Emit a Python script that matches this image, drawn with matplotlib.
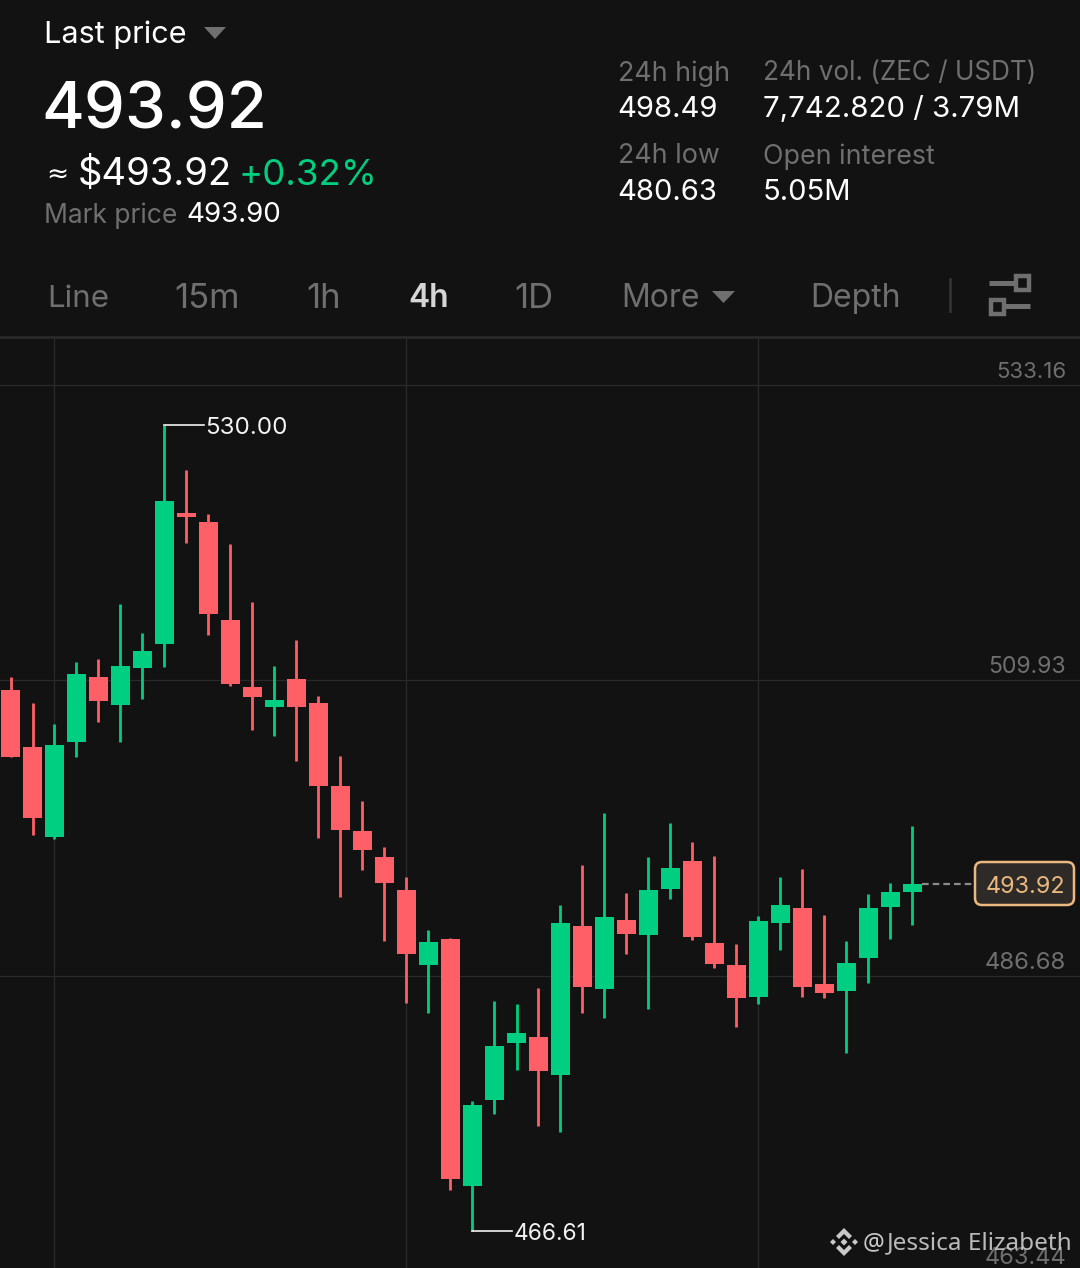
import matplotlib
matplotlib.use("Agg")
import matplotlib.pyplot as plt
from matplotlib.patches import Polygon, Rectangle, FancyBboxPatch
from matplotlib.transforms import blended_transform_factory

W, H = 1080, 1268
BG = "#121212"; GREEN = "#00CF82"; RED = "#FF6068"; GRID = "#2A2A2A"
WHITE = "#FFFFFF"; GRAY = "#6F6F6F"; TAG = "#EBB97F"
plt.rcParams["font.family"] = ["Inter", "DejaVu Sans"]

# OHLC values
opens = [509.17, 504.69, 497.61, 505.08, 510.19, 507.99, 510.90, 512.79, 523.09, 522.38, 514.68,
         509.41, 507.83, 510.04, 508.15, 501.62, 498.08, 496.04, 493.44, 487.54, 489.59,
         470.16, 476.92, 481.41, 481.88, 478.89, 490.61, 485.66, 491.08, 489.90, 493.52,
         495.72, 489.27, 487.54, 485.03, 490.85, 492.03, 486.05, 485.50, 488.09, 492.10, 493.28]
highs = [510.19, 508.15, 506.50, 511.37, 511.61, 515.94, 513.65, 530.00, 526.47, 523.01, 520.65,
         516.09, 511.06, 513.10, 508.70, 503.98, 500.44, 496.82, 494.46, 490.30, 489.67,
         476.85, 484.71, 484.48, 485.73, 492.26, 495.41, 499.50, 493.21, 496.04, 498.71,
         497.22, 496.12, 489.19, 491.40, 494.46, 495.09, 491.48, 489.43, 493.13, 493.99, 498.48]
lows = [503.90, 497.77, 497.45, 503.90, 506.65, 505.08, 508.46, 510.98, 520.73, 513.50, 509.49,
        506.03, 505.55, 503.59, 497.53, 492.89, 495.01, 489.43, 484.55, 483.77, 469.85,
        466.61, 475.82, 479.28, 474.88, 474.41, 483.77, 483.37, 488.41, 484.08, 492.73,
        489.51, 487.31, 482.67, 484.48, 488.72, 485.03, 484.95, 480.62, 486.13, 489.59, 490.69]
closes = [503.90, 499.10, 504.85, 510.43, 508.31, 511.06, 512.24, 524.04, 522.78, 515.15, 509.64,
          508.62, 508.38, 507.83, 501.62, 498.16, 496.59, 493.99, 488.41, 489.35, 470.71,
          476.53, 481.17, 482.20, 479.21, 490.85, 485.81, 491.32, 489.98, 493.44, 495.17,
          489.74, 487.62, 484.95, 491.00, 492.26, 485.81, 485.34, 487.70, 492.03, 493.28, 493.92]
axis_levels = [533.16, 509.93, 486.68, 463.44]
axis_labels = ["533.16", "509.93", "486.68", "463.44"]
axis_sizes = [16.0, 16.6, 17.2, 17.0]
vertical_candles = [2, 18, 34]
last_price = 493.92

def price_at(py):
    return 563.44 - 0.07865 * py

fig = plt.figure(figsize=(W / 100, H / 100), dpi=100, facecolor=BG)

# ---- chart ----
top_px = 338
ax = fig.add_axes([0, 0, 1, (H - top_px) / H], facecolor=BG)
for s in ax.spines.values():
    s.set_visible(False)
ax.set_xticks(vertical_candles)
ax.set_yticks(axis_levels)
ax.set_xlim(-10.5 / 22, (W - 10.5) / 22)
ax.set_ylim(price_at(H), price_at(top_px))
ax.tick_params(length=0, labelleft=False, labelbottom=False)
ax.grid(True, color=GRID, lw=0.85)
ax.set_axisbelow(True)

for i, (o, h, l, c) in enumerate(zip(opens, highs, lows, closes)):
    col = GREEN if c >= o else RED
    ax.vlines(i, l, h, color=col, lw=2.0, zorder=2)
    ax.bar(i, abs(c - o), bottom=min(o, c), width=19.3 / 22, color=col, lw=0, zorder=3)

yt = blended_transform_factory(fig.transFigure, ax.transData)
for lev, lab, sz in zip(axis_levels, axis_labels, axis_sizes):
    ax.annotate(lab, xy=(1066 / W, lev), xycoords=yt, xytext=(0, 13), textcoords="offset pixels",
                ha="right", va="center", color=GRAY, fontsize=sz, annotation_clip=False, zorder=4)

hi_i = highs.index(max(highs)); lo_i = lows.index(min(lows))
for idx, val, sz in [(hi_i, highs[hi_i], 17.4), (lo_i, lows[lo_i], 16.4)]:
    ax.plot([idx, idx + 40 / 22], [val, val], color="#F2F2F2", lw=1.2, zorder=5)
    ax.annotate(f"{val:.2f}", xy=(idx, val), xytext=(41, -2.5), textcoords="offset pixels",
                ha="left", va="center", color="#F2F2F2", fontsize=sz, zorder=5)

ax.plot([41 + 0.45, (974 - 10.5) / 22], [last_price, last_price], color="#8A8A8A", lw=1.6,
        ls=(0, (3, 1.8)), zorder=4)

# ---- interface layer in pixel coordinates ----
ui = fig.add_axes([0, 0, 1, 1], facecolor="none")
ui.set_xlim(0, W); ui.set_ylim(H, 0); ui.axis("off")

def T(x, y, s, color=WHITE, size=22, ha="left", weight="normal", **kw):
    ui.text(x, y + 0.125 * size, s, color=color, fontsize=size, ha=ha, va="center", fontweight=weight, **kw)

T(44, 32, "Last price", size=22.1)
ui.add_patch(Polygon([(204, 27), (226, 27), (215, 39)], color=GRAY, lw=0))
T(41, 106, "493.92", size=47, weight="medium")
T(46, 172, "≈", size=19, family=["DejaVu Sans"])
T(78, 172, "$493.92", size=27.5)
T(238, 172, "+0.32%", size=26.4, color=GREEN)
T(44, 213, "Mark price", size=19, color=GRAY)
T(186, 213, "493.90", size=20)

T(618, 71, "24h high", size=19.3, color=GRAY)
T(617, 107, "498.49", size=21)
T(618, 154, "24h low", size=19.3, color=GRAY)
T(617, 190, "480.63", size=21)
T(763, 71, "24h vol. (ZEC / USDT)", size=18.8, color=GRAY)
T(763, 107, "7,742.820 / 3.79M", size=21.2)
T(763, 154, "Open interest", size=19.3, color=GRAY)
T(763, 190, "5.05M", size=21)

for x, s, sz in [(47, "Line", 22.5), (174, "15m", 25), (306, "1h", 25), (514, "1D", 25),
                 (621, "More", 23), (810, "Depth", 23)]:
    T(x, 296, s, size=sz, color=GRAY)
T(408, 296, "4h", size=23, color="#D6D6D6", weight="semibold")
ui.add_patch(Polygon([(712, 291), (735, 291), (723.5, 303)], color=GRAY, lw=0))
ui.plot([949.5, 949.5], [279, 311], color="#333333", lw=2)

# settings icon
ui.plot([989, 1014], [283, 283], color=GRAY, lw=3.6, solid_capstyle="butt")
ui.plot([1005, 1030], [306, 306], color=GRAY, lw=3.6, solid_capstyle="butt")
ui.add_patch(Rectangle((1016, 276), 12.5, 14, fc="none", ec=GRAY, lw=3.2))
ui.add_patch(Rectangle((991, 300), 12.5, 14, fc="none", ec=GRAY, lw=3.2))

ui.plot([0, W], [337, 337], color=GRID, lw=2)

# last price tag
ui.add_patch(FancyBboxPatch((978, 865), 93, 37, boxstyle="round,pad=3,rounding_size=7",
                            fc="#2D2A27", ec=TAG, lw=1.8, zorder=6))
T(1025, 885, "493.92", size=16.8, color=TAG, ha="center", zorder=7)

# watermark
c = "#C9C9C9"
cx, cy = 844, 1242
d = lambda x, y, r: ui.add_patch(Polygon([(x - r, y), (x, y - r), (x + r, y), (x, y + r)], color=c, lw=0, zorder=8))
d(cx, cy, 3.5); d(cx - 11, cy, 3); d(cx + 11, cy, 3)
ui.add_patch(Polygon([(cx - 8, cy - 6), (cx, cy - 14), (cx + 8, cy - 6), (cx + 5, cy - 3), (cx, cy - 8), (cx - 5, cy - 3)], color=c, lw=0, zorder=8))
ui.add_patch(Polygon([(cx - 8, cy + 6), (cx, cy + 14), (cx + 8, cy + 6), (cx + 5, cy + 3), (cx, cy + 8), (cx - 5, cy + 3)], color=c, lw=0, zorder=8))
ui.text(863, 1243, "@", color=c, fontsize=17.5, va="center", ha="left", family=["Noto Sans"], zorder=8)
ui.text(887, 1243, "Jessica Elizabeth", color=c, alpha=0.92, fontsize=17.5, va="center", ha="left",
        family=["Noto Sans"], zorder=8)

fig.savefig("out.png", dpi=100, facecolor=BG)
